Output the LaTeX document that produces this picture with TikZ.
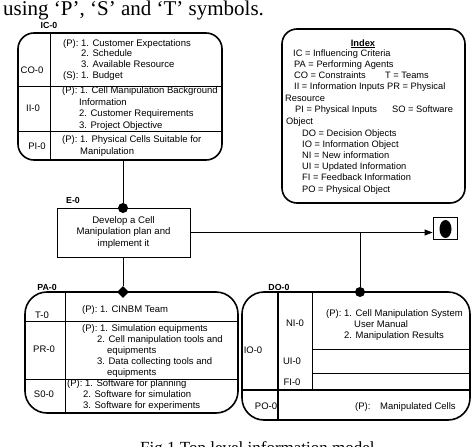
\documentclass[tikz,border=0pt]{standalone}
\usepackage{fontspec}
\setmainfont{Liberation Sans}
\newfontfamily\capfont{Liberation Serif}
\usetikzlibrary{arrows.meta,shapes.geometric}
\tikzset{
  txt/.style={anchor=west, inner sep=0pt, text height=7pt, text depth=1pt, font=\fontsize{9.5}{11}\selectfont},
  itxt/.style={anchor=west, inner sep=0pt, text height=7pt, text depth=1pt, font=\fontsize{9.3}{11}\selectfont},
  lbl/.style={anchor=center, inner sep=0pt, text height=7pt, text depth=1pt, font=\fontsize{9.5}{11}\selectfont},
  blbl/.style={anchor=center, inner sep=0pt, text height=7pt, text depth=1pt, font=\fontsize{8.8}{11}\selectfont\bfseries},
  rbox/.style={draw, line width=1.6pt, inner sep=0pt},
  pbox/.style={draw, line width=0.8pt, inner sep=0pt},
  dot/.style={circle, fill, inner sep=0pt, minimum size=10pt},
  conn/.style={line width=0.8pt},
  div/.style={line width=0.8pt},
}
\begin{document}
\begin{tikzpicture}[x=1pt,y=-1pt]
\useasboundingbox (0,0) rectangle (474,447);
% captions (partly cut by the page edge, as in the reference)
\node[anchor=base west, inner sep=0pt, font=\capfont\fontsize{21}{24}\selectfont] (captop) at (3,16) {using ‘P’, ‘S’ and ‘T’ symbols.};
\node[anchor=base west, inner sep=0pt, font=\capfont\fontsize{17}{20}\selectfont] (capbot) at (140,453) {Fig.1 Top level information model};

% ---------- IC-0 box ----------
\node[rbox, rounded corners=16pt, minimum width=204pt, minimum height=127pt] (ic) at (120,96.5) {};
\draw[div] (50,33) -- (50,160);
\draw[div] (18,86) -- (222,86);
\draw[div] (18,131) -- (222,131);
\node[blbl] (iclbl) at (49,25) {IC-0};
\node[lbl] (co0) at (32,70) {CO-0};
\node[lbl] (ii0) at (33,108) {II-0};
\node[lbl] (pi0) at (37,146) {PI-0};
\foreach \px/\py/\tx [count=\i] in {
  63/43/{(P): 1. Customer Expectations},
  81/53.5/{2. Schedule},
  81/64/{3. Available Resource},
  63/75/{(S): 1. Budget},
  62/90.5/{(P): 1. Cell Manipulation Background},
  79/102/{Information},
  79/113.5/{2. Customer Requirements},
  79/125/{3. Project Objective},
  62/139.5/{(P): 1. Physical Cells Suitable for},
  80/151/{Manipulation}}
  \node[txt] (ict\i) at (\px,\py) {\tx};

% ---------- E-0 ----------
\node[pbox, minimum width=133pt, minimum height=49pt, align=center,
      font=\fontsize{9.6}{11.5}\selectfont] (e) at (123.5,232.5)
      {Develop a Cell\\Manipulation plan and\\implement it};
\node[blbl] (elbl) at (73,200) {E-0};
\node[dot] (edot) at (123,208) {};
\draw[conn] (ic.south -| edot) -- (edot);

% ---------- end node ----------
\node[pbox, minimum width=24pt, minimum height=22pt] (endb) at (445,228) {};
\node[ellipse, fill, inner sep=0pt, minimum width=12pt, minimum height=18pt] (endd) at (445.5,229) {};

% ---------- Index ----------
\node[rbox, rounded corners=15pt, minimum width=183pt, minimum height=174pt] (idx) at (373.5,116) {};
\node[lbl, font=\fontsize{9.3}{11}\selectfont\bfseries] (idxh) at (363,43) {\underline{Index}};
\foreach \px/\py/\tx [count=\i] in {
  293/53/{IC = Influencing Criteria},
  294/64/{PA = Performing Agents},
  294/75/{CO = Constraints},
  385/75/{T = Teams},
  294/86/{II = Information Inputs},
  387/86/{PR = Physical},
  285/98/{Resource},
  295/109/{PI = Physical Inputs},
  392/109/{SO = Software},
  286/121/{Object},
  302/133/{DO = Decision Objects},
  302/144/{IO = Information Object},
  302/155/{NI = New information},
  302/166/{UI = Updated Information},
  302/177/{FI = Feedback Information},
  302/189/{PO = Physical Object}}
  \node[itxt] (ixt\i) at (\px,\py) {\tx};

% ---------- PA-0 box ----------
\node[rbox, rounded corners=22pt, minimum width=213pt, minimum height=121pt] (pa) at (131.5,352.5) {};
\draw[div] (65,292) -- (65,413);
\draw[div] (25,321) -- (238,321);
\draw[div] (25,379) -- (238,379);
\node[diamond, fill, inner sep=0pt, minimum width=12pt, minimum height=12pt] (pdia) at (123,292) {};
\draw[conn] (e.south -| pdia) -- (pdia);
\node[blbl] (palbl) at (47,287) {PA-0};
\node[lbl] (t0) at (42,315) {T-0};
\node[lbl] (pr0) at (44,349) {PR-0};
\node[lbl] (s00) at (44,394) {S0-0};
\foreach \px/\py/\tx [count=\i] in {
  82/309/{(P): 1. CINBM Team},
  82/328/{(P): 1. Simulation equipments},
  97/339/{2. Cell manipulation tools and},
  107/350/{equipments},
  97/361/{3. Data collecting tools and},
  107/372/{equipments},
  67/383/{(P): 1. Software for planning},
  83/394/{2. Software for simulation},
  83/405/{3. Software for experiments}}
  \node[txt] (pat\i) at (\px,\py) {\tx};

% ---------- DO-0 box ----------
\node[rbox, rounded corners=22pt, minimum width=228pt, minimum height=128pt] (do) at (356,356) {};
\draw[div, line width=1.2pt] (278,292) -- (278,420);
\draw[div] (312,292) -- (312,390);
\draw[div] (312,349) -- (470,349);
\draw[div] (312,373) -- (470,373);
\draw[div, line width=1.2pt] (242,390) -- (470,390);
\node[dot] (dodot) at (360,292) {};
\node[blbl] (dolbl) at (279,287) {DO-0};
\node[lbl] (ni0) at (295,323) {NI-0};
\node[lbl] (io0) at (253,350) {IO-0};
\node[lbl] (ui0) at (292,361) {UI-0};
\node[lbl] (fi0) at (292,382) {FI-0};
\node[lbl] (po0) at (266,406) {PO-0};
\foreach \px/\py/\tx [count=\i] in {
  326/313/{(P): 1. Cell Manipulation System},
  354/324/{User Manual},
  344/335/{2. Manipulation Results},
  355/406/{(P):},
  380/406/{Manipulated Cells}}
  \node[txt] (dot\i) at (\px,\py) {\tx};

% ---------- connectors ----------
\draw[conn, -{Triangle[length=8pt,width=6pt]}] (e.east) -- (e.east -| endb.west);
\draw[conn] (e.east -| dodot) -- (dodot);
\end{tikzpicture}
\end{document}
